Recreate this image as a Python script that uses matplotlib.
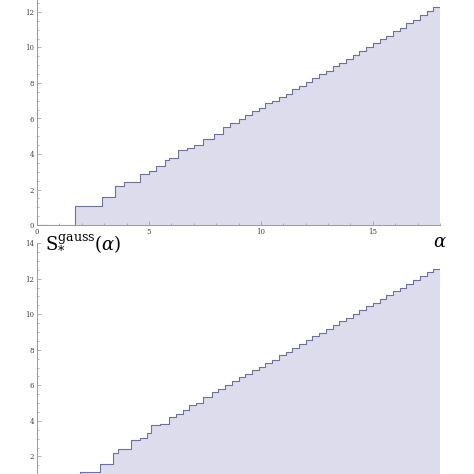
import matplotlib
matplotlib.use('Agg')
import matplotlib.pyplot as plt
from matplotlib.ticker import MultipleLocator

plt.rcParams['mathtext.fontset'] = 'dejavuserif'

# step data (alpha, S)
top_x = [0, 1.7, 2.9, 3.5, 3.9, 4.6, 5.0, 5.3, 5.7, 5.9, 6.3, 6.7, 7.0, 7.4, 7.9, 8.3,
         8.6, 9.0, 9.3, 9.6, 9.9, 10.2, 10.5, 10.8, 11.1, 11.4, 11.7, 12.0, 12.3, 12.6,
         12.9, 13.2, 13.5, 13.8, 14.1, 14.4, 14.7, 15.0, 15.3, 15.6, 15.9, 16.2, 16.5,
         16.8, 17.1, 17.4, 17.7, 18.0]
top_y = [0, 1.1, 1.6, 2.2, 2.4, 2.9, 3.05, 3.35, 3.65, 3.75, 4.2, 4.35, 4.5, 4.85, 5.1, 5.5,
         5.75, 5.95, 6.2, 6.4, 6.6, 6.85, 7.0, 7.2, 7.4, 7.65, 7.85, 8.05, 8.3, 8.5,
         8.7, 8.95, 9.15, 9.35, 9.6, 9.8, 10.0, 10.25, 10.45, 10.65, 10.9, 11.1, 11.35,
         11.55, 11.8, 12.05, 12.3, 12.8]

bot_x = [0, 1.9, 2.8, 3.4, 3.6, 4.2, 4.6, 4.9, 5.1, 5.5, 5.9, 6.2, 6.5, 6.8, 7.1, 7.4,
         7.8, 8.1, 8.4, 8.7, 9.0, 9.3, 9.6, 9.9, 10.2, 10.5, 10.8, 11.1, 11.4, 11.7,
         12.0, 12.3, 12.6, 12.9, 13.2, 13.5, 13.8, 14.1, 14.4, 14.7, 15.0, 15.3, 15.6,
         15.9, 16.2, 16.5, 16.8, 17.1, 17.4, 17.7, 18.0]
bot_y = [0, 1.1, 1.6, 2.2, 2.4, 2.9, 3.05, 3.3, 3.75, 3.8, 4.2, 4.4, 4.6, 4.9, 5.0, 5.35,
         5.6, 5.8, 6.0, 6.25, 6.45, 6.65, 6.85, 7.05, 7.25, 7.45, 7.7, 7.9, 8.1, 8.3,
         8.55, 8.75, 8.95, 9.15, 9.4, 9.6, 9.8, 10.0, 10.25, 10.45, 10.65, 10.85, 11.1,
         11.3, 11.5, 11.7, 11.95, 12.15, 12.35, 12.55, 12.8]

fill_c = '#dcdcec'
line_c = '#6f6fa0'

fig = plt.figure(figsize=(4.74, 4.74), dpi=100)
ax1 = fig.add_axes([37/474, 0.525, 403/474, 0.525])
ax2 = fig.add_axes([37/474, -0.038, 403/474, 0.525])

for ax, xs, ys in [(ax1, top_x, top_y), (ax2, bot_x, bot_y)]:
    ax.fill_between(xs, ys, step='post', color=fill_c, lw=0)
    ax.step(xs, ys, where='post', color=line_c, lw=0.8)
    ax.set_xlim(0, 18)
    ax.set_ylim(0, 14)
    ax.patch.set_alpha(0)
    for s in ['top', 'right']:
        ax.spines[s].set_visible(False)
    for s in ['left', 'bottom']:
        ax.spines[s].set_color('#999999')
        ax.spines[s].set_linewidth(0.7)
    ax.xaxis.set_major_locator(MultipleLocator(5))
    ax.xaxis.set_minor_locator(MultipleLocator(1))
    ax.yaxis.set_major_locator(MultipleLocator(2))
    ax.yaxis.set_minor_locator(MultipleLocator(0.5))
    ax.tick_params(which='both', direction='in', color='#999999', labelsize=5,
                   labelcolor='#444444', pad=2, width=0.5)
    ax.tick_params(which='major', length=3)
    ax.tick_params(which='minor', length=1.5)

ax1.set_yticks([0, 2, 4, 6, 8, 10, 12])
ax2.set_yticks([2, 4, 6, 8, 10, 12, 14])
ax2.tick_params(axis='x', labelbottom=False)
for ax in (ax1, ax2):
    for lab in ax.get_xticklabels() + ax.get_yticklabels():
        lab.set_family('DejaVu Serif')

ax1.text(440, 232, r'$\alpha$', transform=None, fontsize=13, va='center', ha='center')
fig.text(45/474, (474-243)/474, r'$\mathrm{S}_{*}^{\mathrm{gauss}}(\alpha)$',
         fontsize=13, va='center', ha='left')

fig.savefig('out.png', dpi=100)
